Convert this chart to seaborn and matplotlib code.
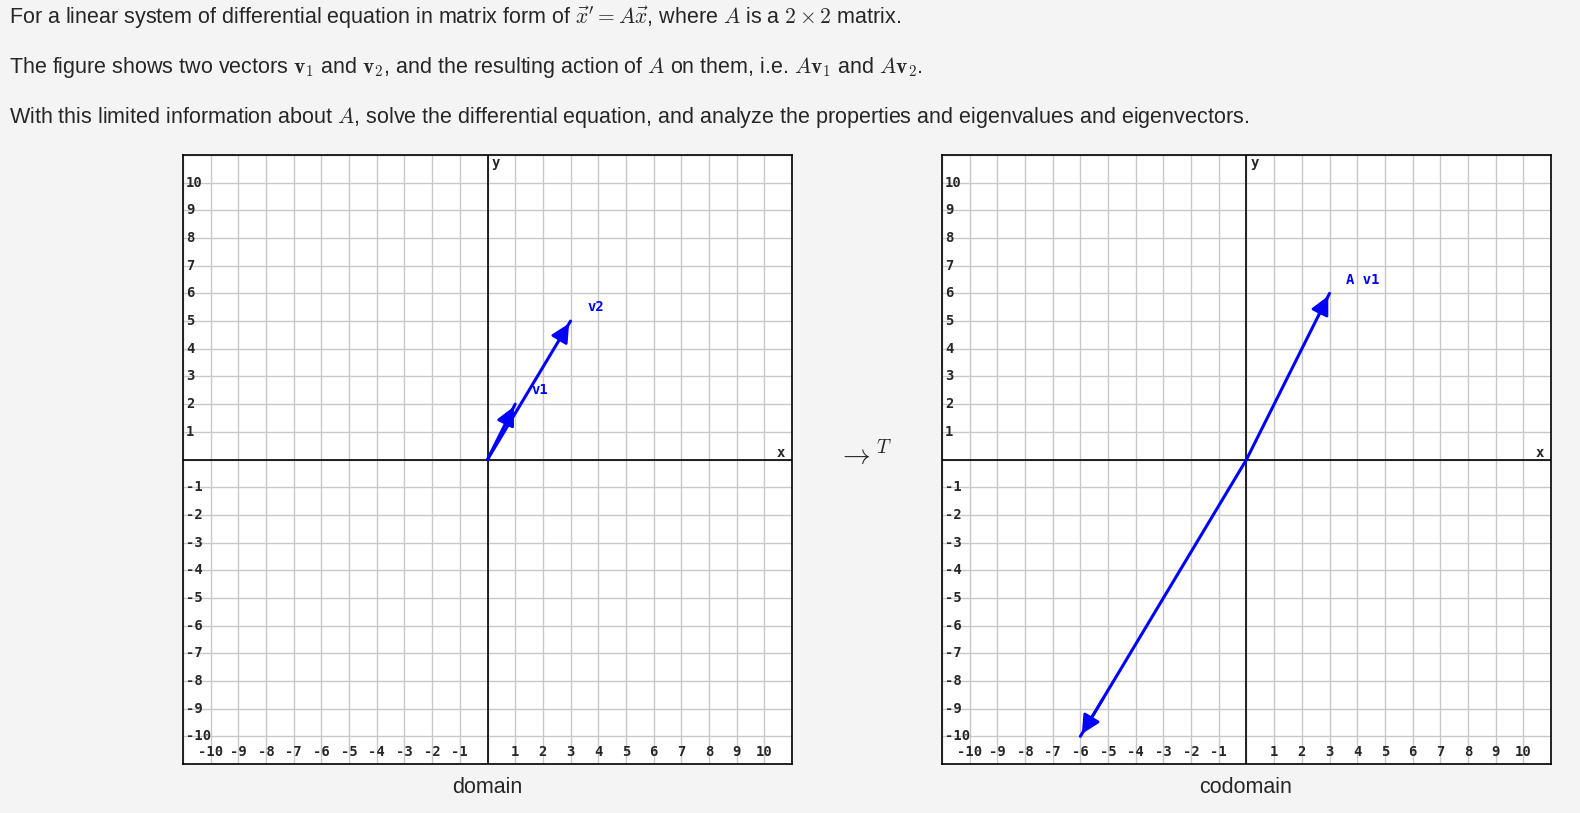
import numpy as np
import pandas as pd
import matplotlib
matplotlib.use("Agg")
import matplotlib.pyplot as plt
import seaborn as sns

# vectors
domain_vecs = [(1, 2), (3, 5)]
domain_labels = ["v1", "v2"]
codomain_vecs = [(3, 6), (-6, -10)]
codomain_labels = ["A v1", ""]
ticks = [t for t in range(-10, 11) if t != 0]

sns.set_style("white")
plt.rcParams["font.family"] = ["DejaVu Sans"]
plt.rcParams["mathtext.fontset"] = "cm"

fig = plt.figure(figsize=(15.8, 8.13), dpi=100)
fig.patch.set_facecolor("#f4f4f4")

fs = 15.5
fig.text(0.006, 0.978, r"For a linear system of differential equation in matrix form of $\vec{x}' = A\vec{x}$, where $A$ is a $2\times 2$ matrix.",
         fontsize=fs, va="center", family="Liberation Sans")
fig.text(0.006, 0.917, r"The figure shows two vectors $\mathbf{v_1}$ and $\mathbf{v_2}$, and the resulting action of $A$ on them, i.e. $A\mathbf{v_1}$ and $A\mathbf{v_2}$.",
         fontsize=fs, va="center", family="Liberation Sans")
fig.text(0.006, 0.855, r"With this limited information about $A$, solve the differential equation, and analyze the properties and eigenvalues and eigenvectors.",
         fontsize=fs, va="center", family="Liberation Sans")

mono = dict(fontsize=10, family="DejaVu Sans Mono", fontweight="bold")


def draw_plane(ax, vecs, labels):
    ax.set_facecolor("white")
    ax.set_xlim(-11, 11)
    ax.set_ylim(-11, 11)
    for t in range(-11, 12):
        ax.axvline(t, color="#c8c8c8", lw=1, zorder=0)
        ax.axhline(t, color="#c8c8c8", lw=1, zorder=0)
    ax.axvline(0, color="black", lw=1.2, zorder=1)
    ax.axhline(0, color="black", lw=1.2, zorder=1)
    ax.set_xticks([])
    ax.set_yticks([])
    for s in ax.spines.values():
        s.set_color("black")
        s.set_linewidth(1.2)
    for t in ticks:
        ax.text(-10.9, t, str(t), va="center", ha="left", **mono)
        ax.text(t, -10.55, str(t), va="center", ha="center", **mono)
    ax.text(0.15, 10.7, "y", va="center", **mono)
    ax.text(10.6, 0.25, "x", va="center", ha="center", **mono)
    for (vx, vy), lab in zip(vecs, labels):
        df = pd.DataFrame({"x": [0, vx], "y": [0, vy]})
        sns.lineplot(data=df, x="x", y="y", ax=ax, color="blue", lw=2.2, sort=False)
        ax.annotate("", xy=(vx, vy), xytext=(vx * 0.85, vy * 0.85),
                    arrowprops=dict(arrowstyle="-|>", color="blue", lw=2, mutation_scale=28))
        if lab:
            ax.text(vx + 0.6, vy + 0.5, lab, color="blue", va="center", **mono)
    ax.set_xlabel("")
    ax.set_ylabel("")


ax1 = fig.add_axes([183 / 1580, 49 / 813, 609 / 1580, 609 / 813])
ax2 = fig.add_axes([942 / 1580, 49 / 813, 609 / 1580, 609 / 813])
draw_plane(ax1, domain_vecs, domain_labels)
draw_plane(ax2, codomain_vecs, codomain_labels)

fig.text(487 / 1580, 1 - 787 / 813, "domain", fontsize=fs, ha="center", va="center", family="Liberation Sans")
fig.text(1246 / 1580, 1 - 787 / 813, "codomain", fontsize=fs, ha="center", va="center", family="Liberation Sans")
fig.text(865 / 1580, 1 - 455 / 813, r"$\rightarrow^{T}$", fontsize=20, ha="center", va="center")

fig.savefig("out.png", dpi=100, facecolor=fig.get_facecolor())
